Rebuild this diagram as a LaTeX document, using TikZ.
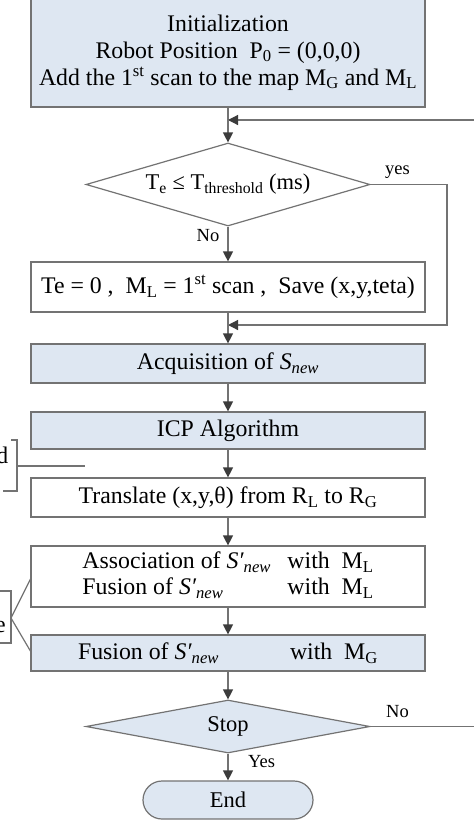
\documentclass[tikz,border=0pt]{standalone}
\usepackage{fontspec}
\setmainfont{Liberation Serif}
\usetikzlibrary{shapes.geometric,arrows.meta}
\definecolor{boxfill}{RGB}{222,231,242}
\definecolor{edgec}{RGB}{115,115,115}
\definecolor{tipc}{RGB}{60,60,60}
\begin{document}
\begin{tikzpicture}[x=1pt,y=-1pt,
  mainfont/.style={font=\fontsize{22.5}{27}\selectfont},
  boxfont/.style={font=\fontsize{23.8}{27}\selectfont},
  box/.style={draw=edgec, line width=1.2pt, minimum width=394pt, inner sep=0pt, align=center, boxfont},
  bluebox/.style={box, fill=boxfill},
  dec/.style={diamond, draw=edgec, line width=1.2pt, minimum width=284pt, aspect=3.4, inner sep=0pt, mainfont},
  conn/.style={draw=edgec, line width=1.2pt},
  arr/.style={conn, -{Triangle[length=10pt,width=10pt,color=tipc]}},
  lab/.style={font=\fontsize{18.5}{20}\selectfont, inner sep=0pt}
]
\useasboundingbox (0,0) rectangle (474,820);
\fill[white] (0,0) rectangle (474,820);

% main flow
\node[bluebox, minimum height=109pt] (init) at (228,52.5)
  {Initialization\\Robot Position\ \ P\textsubscript{0} = (0,0,0)\\Add the 1\textsuperscript{st} scan to the map M\textsubscript{G} and M\textsubscript{L}};
\coordinate (j1) at (228,120);
\coordinate (r1) at (474,120);
\node[dec, fill=white, minimum height=83pt] (d1) at (228,184.5)
  {T\textsubscript{e} ≤ T\textsubscript{threshold} (ms)};
\node[box, minimum height=50pt] (te) at (228,287)
  {Te = 0 ,\ \ M\textsubscript{L} = 1\textsuperscript{st} scan ,\ \ Save (x,y,teta)};
\coordinate (y1) at (447,184.5);
\coordinate (y2) at (447,325);
\coordinate (j2) at (228,325);
\node[bluebox, minimum height=39pt] (acq) at (228,363.5) {Acquisition of \textit{S\textsubscript{new}}};
\node[bluebox, minimum height=37pt] (icp) at (228,430.5) {ICP Algorithm};
\node[box, minimum height=39pt] (tr) at (228,497.5)
  {Translate (x,y,θ) from R\textsubscript{L} to R\textsubscript{G}};
\node[box, minimum height=61pt] (as) at (228,576.5)
  {\begin{tabular}{@{}p{205pt}@{}l@{}}
   Association of \textit{S′\textsubscript{new}} & with\ \ M\textsubscript{L}\\[-1pt]
   Fusion of \textit{S′\textsubscript{new}} & with\ \ M\textsubscript{L}
   \end{tabular}};
\node[bluebox, minimum height=36pt] (fu) at (228,653)
  {\makebox[212pt][l]{Fusion of \textit{S′\textsubscript{new}}}with\ \ M\textsubscript{G}};
\node[dec, fill=boxfill, minimum height=53pt] (d2) at (228,726.5) {Stop};
\coordinate (r2) at (474,726.5);
\node[draw=edgec, line width=1.2pt, fill=boxfill, rounded corners=19pt, minimum width=170pt, minimum height=38pt, inner sep=0pt, mainfont] (end) at (228,800) {End};

% connectors
\draw[conn] (init.south) -- (j1);
\draw[arr] (r1) -- (j1);
\draw[arr] (j1) -- (d1.north);
\draw[arr] (d1.south) -- (te.north);
\draw[arr] (d1.east) -- (y1) -- (y2) -- (j2);
\draw[arr] (te.south) -- (acq.north);
\draw[arr] (acq.south) -- (icp.north);
\draw[arr] (icp.south) -- (tr.north);
\draw[arr] (tr.south) -- (as.north);
\draw[arr] (as.south) -- (fu.north);
\draw[arr] (fu.south) -- (d2.north);
\draw[arr] (d2.south) -- (end.north);
\draw[conn] (d2.east) -- (r2);

% labels
\node[lab, anchor=west] (lyes) at (385,172) {yes};
\node[lab] (lno1) at (208,236) {No};
\node[lab, anchor=west] (lno2) at (386,712) {No};
\node[lab, anchor=west] (lyes2) at (248,762) {Yes};

% left fragments
\node[boxfont, inner sep=0pt, anchor=east] (dfrag) at (8.5,455) {d};
\draw[conn] (11,440) -- (17,440) -- (17,491) -- (3,491);
\draw[conn] (17,466) -- (85,466);
\draw[conn] (-2,591) rectangle (11,643);
\node[boxfont, inner sep=0pt, anchor=east] (efrag) at (6,627) {e};
\draw[conn] (31,578) -- (11,618) -- (31,652);
\end{tikzpicture}
\end{document}
